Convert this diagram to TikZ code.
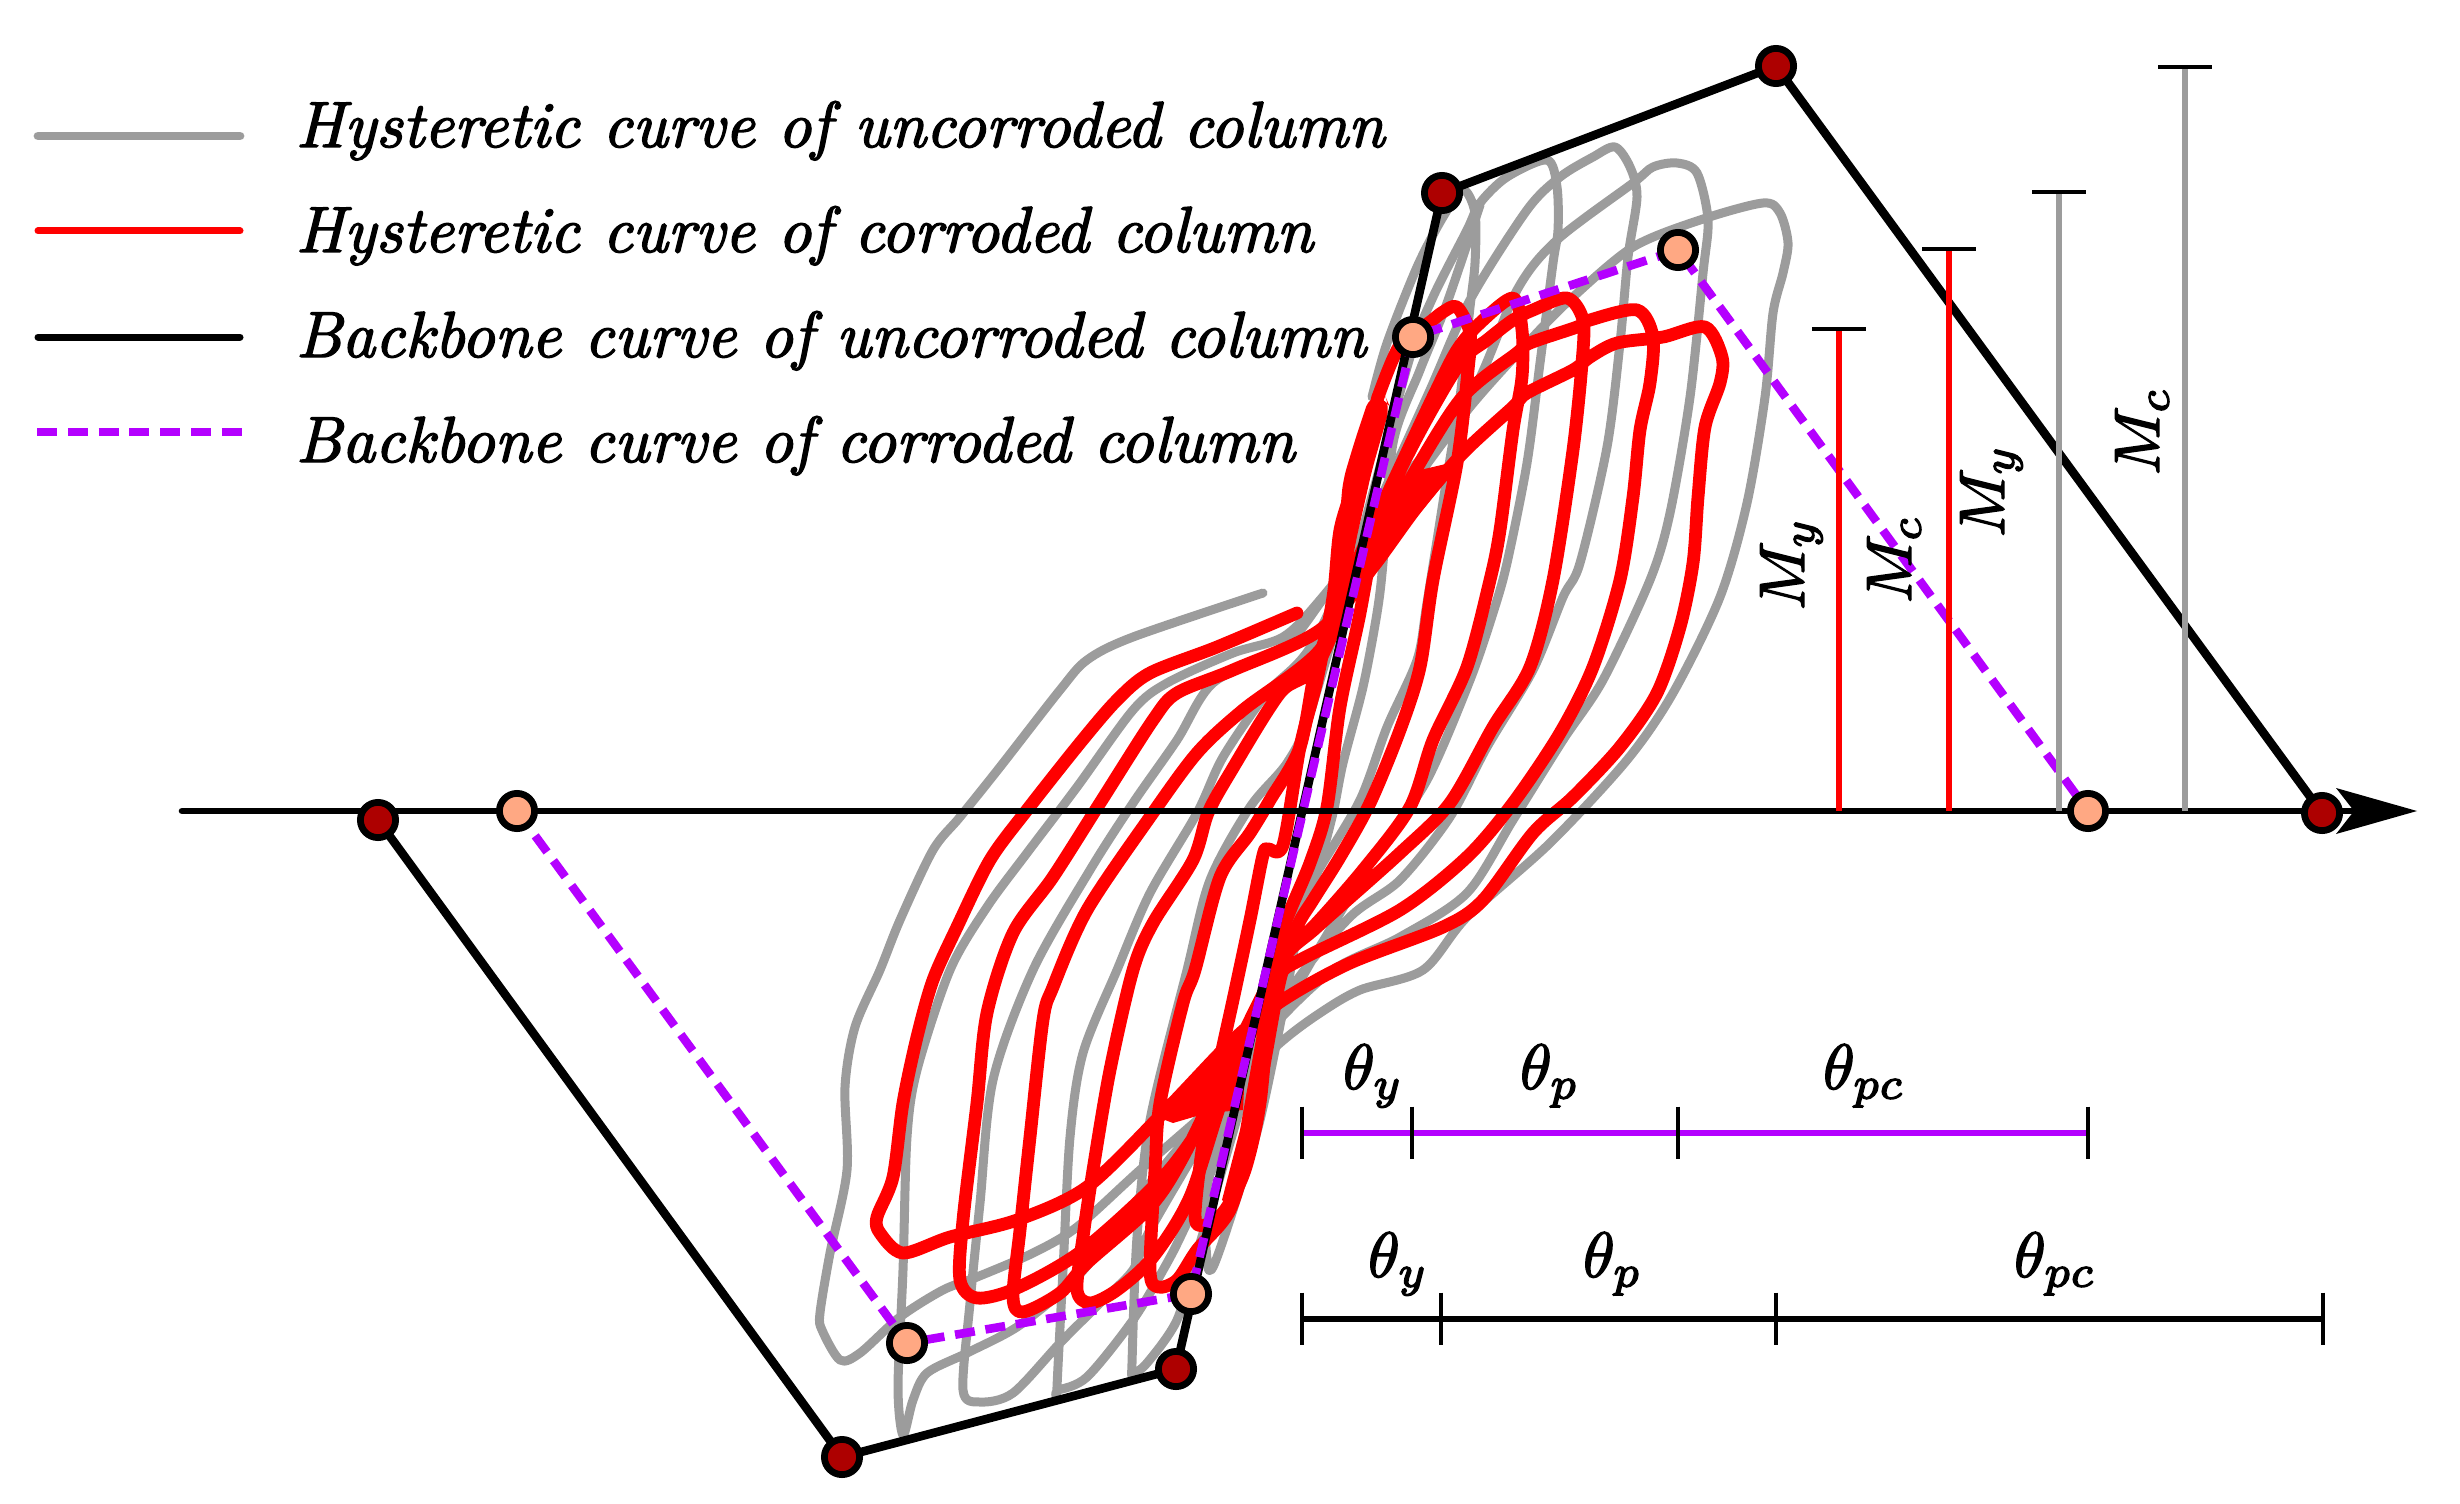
\documentclass[tikz,border=0pt]{standalone}
\definecolor{cgray}{HTML}{9C9C9C}
\definecolor{cred}{HTML}{FF0000}
\definecolor{cpurple}{HTML}{B400FF}
\definecolor{cdark}{HTML}{AD0000}
\definecolor{cpeach}{HTML}{FFA883}
\tikzset{
 graycurve/.style={draw=cgray,line width=4.5pt,line join=round,line cap=round},
 redcurve/.style={draw=cred,line width=6.4pt,line join=round,line cap=round},
 backbone/.style={draw=black,line width=4.3pt},
 corrbone/.style={draw=cpurple,line width=4.3pt,dash pattern=on 10pt off 5.4pt},
 darkmark/.style={circle,draw=black,line width=3.4pt,fill=cdark,minimum size=17.6pt,inner sep=0pt,outer sep=0pt},
 peachmark/.style={circle,draw=black,line width=3.4pt,fill=cpeach,minimum size=17.6pt,inner sep=0pt,outer sep=0pt},
 lab/.style={scale=3.2,inner sep=0pt,outer sep=0pt,anchor=base west},
 txtlab/.style={scale=3.25,inner sep=0pt,outer sep=0pt,anchor=base west},
 vlab/.style={scale=3.2,inner sep=0pt,outer sep=0pt,anchor=base west,rotate=90},
 tickmark/.style={draw=black,line width=2pt},
 vbar/.style={line width=3.4pt},
 hbar/.style={line width=3.4pt}
}
\newcommand{\gc}[1]{\draw[graycurve] plot[smooth,tension=0.5] coordinates {#1};}
\newcommand{\rc}[1]{\draw[redcurve] plot[smooth,tension=0.5] coordinates {#1};}
\newcommand{\hv}[1]{\special{pdf:code 2 Tr 0.22 w}#1\special{pdf:code 0 Tr}}
\begin{document}
\begin{tikzpicture}[x=0.5pt,y=-0.5pt]
\useasboundingbox (0,0) rectangle (2460,1503);
% ---- coordinates of the backbones
\coordinate (D1) at (378,820);
\coordinate (D2) at (842,1457);
\coordinate (D3) at (1176,1369);
\coordinate (D4) at (1442,193);
\coordinate (D5) at (1776,66);
\coordinate (D6) at (2322,813);
\coordinate (P1) at (517,811);
\coordinate (P2) at (907,1343);
\coordinate (P3) at (1191,1294);
\coordinate (P4) at (1413,337);
\coordinate (P5) at (1678,250);
\coordinate (P6) at (2088,811);
% ---- gray hysteresis
\gc{(1372,397)(1387,343)(1417,267)(1443,217)(1463,190)(1475,213)(1475,263)(1470,307)(1460,397)(1447,477)(1427,603)(1417,660)(1387,727)(1360,800)(1317,873)(1297,917)(1260,1040)(1217,1187)(1197,1253)(1177,1320)(1147,1363)(1133,1373)(1132,1363)(1137,1237)(1150,1120)(1187,970)(1210,880)(1250,807)(1287,763)(1310,713)(1360,540)(1410,357)(1433,297)(1467,230)(1480,203)(1507,177)(1547,160)(1557,187)(1558,230)(1553,263)(1540,363)(1527,463)(1507,563)(1493,613)(1470,680)(1427,780)(1377,853)(1340,913)(1290,1000)(1240,1110)(1187,1223)(1167,1263)(1133,1320)(1087,1377)(1058,1390)(1057,1387)(1063,1270)(1070,1137)(1083,1053)(1117,970)(1150,893)(1197,813)(1223,757)(1267,693)(1313,643)(1380,500)(1430,390)(1470,300)(1527,210)(1560,177)(1593,157)(1615,147)(1630,167)(1637,197)(1628,257)(1620,343)(1607,447)(1580,563)(1563,597)(1533,670)(1487,747)(1450,817)(1400,880)(1350,917)(1290,990)(1220,1110)(1150,1230)(1133,1270)(1100,1303)(1060,1343)(1013,1393)(980,1402)(963,1390)(970,1303)(980,1203)(993,1080)(1033,970)(1090,870)(1133,803)(1177,740)(1213,683)(1283,647)(1320,603)(1395,490)(1470,397)(1517,290)(1557,240)(1633,183)(1653,167)(1677,163)(1697,173)(1708,220)(1703,273)(1690,397)(1670,513)(1650,580)(1603,680)(1563,740)(1513,820)(1467,893)(1400,937)(1333,970)(1270,1030)(1210,1110)(1150,1183)(1100,1250)(1067,1287)(1017,1327)(967,1353)(927,1373)(913,1400)(903,1435)(898,1387)(903,1270)(907,1137)(917,1070)(950,970)(987,907)(1027,853)(1077,787)(1133,710)(1167,683)(1233,653)(1283,637)(1320,600)(1400,500)(1470,407)(1533,337)(1573,297)(1633,247)(1700,220)(1763,203)(1780,213)(1788,243)(1783,273)(1773,313)(1765,397)(1747,503)(1720,597)(1673,693)(1627,760)(1550,843)(1467,917)(1423,970)(1360,990)(1320,1013)(1280,1043)(1220,1100)(1140,1170)(1077,1227)(1033,1253)(977,1277)(943,1290)(900,1317)(860,1353)(840,1360)(822,1330)(820,1313)(830,1253)(847,1170)(845,1087)(855,1027)(880,970)(900,920)(933,850)(960,817)(1000,767)(1060,690)(1087,660)(1133,637)(1263,593)}
\gc{(1480,205)(1447,303)(1420,370)(1393,443)(1383,563)(1377,613)(1363,687)(1343,763)(1333,813)(1317,873)(1300,920)(1285,1000)(1260,1120)(1233,1210)(1213,1267)(1207,1260)(1207,1187)(1240,1060)(1270,970)}
% ---- red hysteresis
\rc{(1378,397)(1355,480)(1340,530)(1333,597)(1317,680)(1300,747)(1283,845)(1268,849)(1263,855)(1250,920)(1233,1000)(1222,1050)(1205,1130)(1195,1215)(1205,1225)(1225,1210)(1245,1170)(1260,1103)(1270,1000)(1283,930)(1310,863)(1327,807)(1340,707)(1360,613)(1377,517)}
\rc{(1378,397)(1400,345)(1430,322)(1443,312)(1457,307)(1470,333)(1468,370)(1457,463)(1433,580)(1420,667)(1400,730)(1370,803)(1340,857)(1313,900)(1297,927)(1280,980)(1265,1060)(1250,1140)(1230,1210)(1197,1250)(1177,1280)(1158,1287)(1150,1270)(1155,1170)(1160,1103)(1183,1003)(1195,970)(1220,877)(1250,833)(1270,800)(1300,747)(1317,663)(1345,590)(1377,517)(1400,467)(1433,397)(1457,350)(1480,323)(1513,298)(1522,330)(1522,377)(1513,430)(1500,530)(1490,580)(1467,667)(1433,740)(1410,807)(1363,870)(1313,927)(1290,947)(1260,1010)(1223,1097)(1190,1197)(1153,1257)(1117,1290)(1090,1303)(1077,1290)(1083,1237)(1093,1170)(1110,1070)(1133,970)(1153,923)(1193,860)(1208,813)(1230,773)(1280,693)(1320,660)(1377,520)(1417,437)(1460,363)(1487,340)(1513,320)(1533,310)(1567,298)(1583,320)(1582,363)(1573,450)(1553,580)(1530,667)(1493,727)(1450,803)(1400,853)(1317,927)(1280,963)(1227,1067)(1183,1157)(1150,1207)(1087,1263)(1060,1293)(1023,1312)(1013,1297)(1020,1230)(1030,1137)(1043,1020)(1053,987)(1087,910)(1150,817)(1197,753)(1243,710)(1320,650)(1360,570)(1400,497)(1460,400)(1517,353)(1530,343)(1577,327)(1590,320)(1637,310)(1653,337)(1650,383)(1640,430)(1633,497)(1620,580)(1593,667)(1560,733)(1513,803)(1467,857)(1400,910)(1300,960)(1277,980)(1233,1070)(1207,1117)(1163,1177)(1083,1250)(1017,1288)(977,1298)(960,1280)(963,1220)(977,1103)(987,1013)(1013,933)(1053,877)(1100,803)(1153,720)(1177,693)(1233,670)(1320,630)(1373,567)(1417,507)(1463,453)(1513,407)(1527,393)(1573,370)(1590,357)(1617,343)(1663,337)(1705,327)(1722,357)(1720,383)(1705,427)(1698,497)(1693,563)(1680,627)(1657,693)(1620,747)(1573,797)(1533,833)(1483,900)(1443,927)(1350,963)(1283,1000)(1233,1040)(1163,1113)(1087,1187)(1017,1220)(950,1237)(903,1253)(880,1233)(877,1217)(893,1177)(903,1103)(917,1037)(933,980)(957,927)(990,860)(1027,810)(1080,743)(1117,700)(1150,673)(1217,647)(1297,613)}
% filled bundles where many branches merge
\fill[cred,rounded corners=6pt] (1370,395) -- (1386,398) -- (1390,407) -- (1372,470) -- (1355,545) -- (1345,610) -- (1322,650) -- (1333,593) -- (1337,547) -- (1343,480) -- (1355,440) -- cycle;
\fill[cred] (1375,567) -- (1420,513) -- (1463,460) -- (1420,470) -- (1402,503) -- (1383,510) -- cycle;
\fill[cred] (1157,1117) -- (1220,1057) -- (1247,1027) -- (1243,1110) -- (1207,1113) -- (1173,1123) -- cycle;
\fill[cred] (1222,1200) -- (1240,1130) -- (1262,1005) -- (1275,1005) -- (1262,1100) -- (1233,1210) -- cycle;
% ---- axis
\coordinate (axL) at (182,811);
\coordinate (axR) at (2360,811);
\coordinate (tip) at (2417,811);
\coordinate (arT) at (2336,788);
\coordinate (arB) at (2336,834);
\coordinate (arN) at (2354,811);
\draw[line width=3.3pt,line cap=round] (axL) -- (axR);
\fill (tip) -- (arT) -- (arN) -- (arB) -- cycle;
% ---- backbones
\draw[backbone] (D1) -- (D2) -- (D3) -- (D4) -- (D5) -- (D6);
\draw[corrbone] (P1) -- (P2) -- (P3) -- (P4) -- (P5) -- (P6);
% ---- moment bars
\coordinate (v1b) at (1839,811); \coordinate (v1t) at (1839,329);
\coordinate (v2b) at (1949,811); \coordinate (v2t) at (1949,249);
\coordinate (v3b) at (2059,811); \coordinate (v3t) at (2059,192);
\coordinate (v4b) at (2185,811); \coordinate (v4t) at (2185,67);
\draw[vbar,cred] (v1b) -- (v1t);
\draw[vbar,cred] (v2b) -- (v2t);
\draw[vbar,cgray] (v3b) -- (v3t);
\draw[vbar,cgray] (v4b) -- (v4t);
\foreach \n in {v1t,v2t,v3t,v4t}{\draw[tickmark] ([xshift=-13.5pt]\n) -- ([xshift=13.5pt]\n);}
\node[vlab] (my1) at (1804,610) {\hv{$M_y$}};
\node[vlab] (mc1) at (1911,603) {\hv{$M_c$}};
\node[vlab] (my2) at (2004,537) {\hv{$M_y$}};
\node[vlab] (mc2) at (2159,475) {\hv{$M_c$}};
% ---- rotation bars
\coordinate (a1) at (1302,1133); \coordinate (a2) at (1412,1133); \coordinate (a3) at (1678,1133); \coordinate (a4) at (2088,1133);
\coordinate (b1) at (1302,1319); \coordinate (b2) at (1441,1319); \coordinate (b3) at (1776,1319); \coordinate (b4) at (2323,1319);
\draw[hbar,cpurple] (a1) -- (a4);
\draw[hbar,black] (b1) -- (b4);
\foreach \n in {a1,a2,a3,a4,b1,b2,b3,b4}{\draw[tickmark] ([yshift=13.2pt]\n) -- ([yshift=-13.2pt]\n);}
\node[lab] (ty1) at (1343,1089) {\hv{$\theta_y$}};
\node[lab] (tp1) at (1520,1089) {\hv{$\theta_p$}};
\node[lab] (tc1) at (1823,1089) {\hv{$\theta_{pc}$}};
\node[lab] (ty2) at (1368,1277) {\hv{$\theta_y$}};
\node[lab] (tp2) at (1583,1277) {\hv{$\theta_p$}};
\node[lab] (tc2) at (2014,1277) {\hv{$\theta_{pc}$}};
% ---- markers
\foreach \n in {D1,D2,D3,D4,D5,D6}{\node[darkmark] at (\n) {};}
\foreach \n in {P1,P2,P3,P4,P5,P6}{\node[peachmark] at (\n) {};}
% ---- legend
\coordinate (l1a) at (38,136); \coordinate (l1b) at (240,136);
\coordinate (l2a) at (38,231); \coordinate (l2b) at (240,231);
\coordinate (l3a) at (38,337); \coordinate (l3b) at (240,337);
\coordinate (l4a) at (37,432); \coordinate (l4b) at (242,432);
\draw[draw=cgray,line width=4.4pt,line cap=round] (l1a) -- (l1b);
\draw[draw=cred,line width=3.5pt,line cap=round] (l2a) -- (l2b);
\draw[draw=black,line width=3.5pt,line cap=round] (l3a) -- (l3b);
\draw[corrbone] (l4a) -- (l4b);
\node[txtlab] (t1) at (296,147) {\hv{\itshape Hysteretic curve of uncorroded column}};
\node[txtlab] (t2) at (296,252) {\hv{\itshape Hysteretic curve of corroded column}};
\node[txtlab] (t3) at (296,357) {\hv{\itshape Backbone curve of uncorroded column}};
\node[txtlab] (t4) at (296,462) {\hv{\itshape Backbone curve of corroded column}};
\end{tikzpicture}
\end{document}
